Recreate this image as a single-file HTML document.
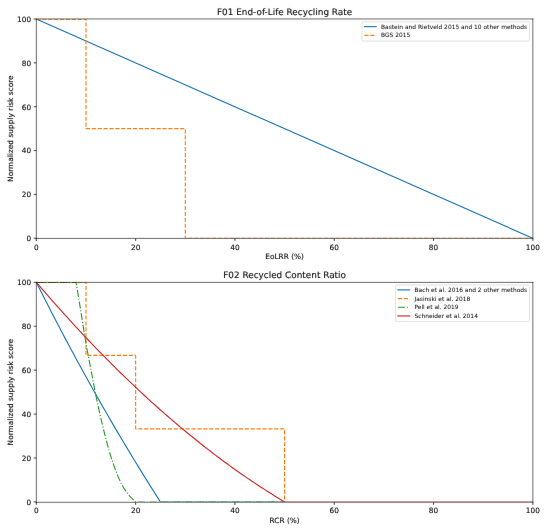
<!DOCTYPE html>
<html><head><meta charset="utf-8"><title>Recycling indicators</title>
<style>html,body{margin:0;padding:0;background:#fff}svg{display:block}text{font-family:"DejaVu Sans","Liberation Sans",sans-serif;fill:#000;stroke:#000;text-rendering:geometricPrecision}</style></head><body>
<svg width="550" height="528" viewBox="0 0 550 528">
<rect width="550" height="528" fill="#fff"/>
<defs>
<clipPath id="c0"><rect x="36.35" y="19.05" width="496.50" height="219.20"/></clipPath>
<clipPath id="c1"><rect x="36.35" y="282.3" width="496.50" height="219.42"/></clipPath>
<filter id="soft" x="0" y="0" width="550" height="528" filterUnits="userSpaceOnUse" color-interpolation-filters="sRGB"><feConvolveMatrix order="3" kernelMatrix="0.00202 0.04095 0.00202 0.04095 0.82810 0.04095 0.00202 0.04095 0.00202" divisor="1" edgeMode="duplicate" preserveAlpha="false"/></filter>
</defs>
<g clip-path="url(#c0)" fill="none" stroke-width="1.15" stroke-linejoin="round">
<path d="M36.35 19.05 L532.85 238.25" stroke="#1f77b4" stroke-linecap="square"/>
<path d="M36.35 19.05 L86.00 19.05 L86.00 128.65 L185.30 128.65 L185.30 238.25 L532.85 238.25" stroke="#ff7f0e" stroke-dasharray="4.114 1.779"/>
</g>
<g filter="url(#soft)">
<g stroke="#000" stroke-width="0.60" fill="none">
<path d="M36.35 238.4 v2.59" stroke-width="0.75"/>
<path d="M36.35 238.25 h-2.59" stroke-width="0.75"/>
<path d="M135.65 238.4 v2.59" stroke-width="0.75"/>
<path d="M36.35 194.41 h-2.59" stroke-width="0.75"/>
<path d="M234.95 238.4 v2.59" stroke-width="0.75"/>
<path d="M36.35 150.57 h-2.59" stroke-width="0.75"/>
<path d="M334.25 238.4 v2.59" stroke-width="0.75"/>
<path d="M36.35 106.73 h-2.59" stroke-width="0.75"/>
<path d="M433.55 238.4 v2.59" stroke-width="0.75"/>
<path d="M36.35 62.89 h-2.59" stroke-width="0.75"/>
<path d="M532.85 238.4 v2.59" stroke-width="0.75"/>
<path d="M36.35 19.05 h-2.59" stroke-width="0.75"/>
<path d="M36.35 238.4 V18.95 M532.85 238.4 V18.95" stroke-linecap="square"/>
<path d="M36.35 238.4 H532.85 M36.35 18.95 H532.85" stroke-linecap="square"/>
</g>
<g>
<text transform="translate(36.35 249.50) scale(0.1)" font-size="74.0px" stroke-width="1.0" text-anchor="middle">0</text>
<text transform="translate(31.17 241.06) scale(0.1)" font-size="74.0px" stroke-width="1.0" text-anchor="end">0</text>
<text transform="translate(135.65 249.50) scale(0.1)" font-size="74.0px" stroke-width="1.0" text-anchor="middle">20</text>
<text transform="translate(31.17 197.22) scale(0.1)" font-size="74.0px" stroke-width="1.0" text-anchor="end">20</text>
<text transform="translate(234.95 249.50) scale(0.1)" font-size="74.0px" stroke-width="1.0" text-anchor="middle">40</text>
<text transform="translate(31.17 153.38) scale(0.1)" font-size="74.0px" stroke-width="1.0" text-anchor="end">40</text>
<text transform="translate(334.25 249.50) scale(0.1)" font-size="74.0px" stroke-width="1.0" text-anchor="middle">60</text>
<text transform="translate(31.17 109.54) scale(0.1)" font-size="74.0px" stroke-width="1.0" text-anchor="end">60</text>
<text transform="translate(433.55 249.50) scale(0.1)" font-size="74.0px" stroke-width="1.0" text-anchor="middle">80</text>
<text transform="translate(31.17 65.70) scale(0.1)" font-size="74.0px" stroke-width="1.0" text-anchor="end">80</text>
<text transform="translate(532.85 249.50) scale(0.1)" font-size="74.0px" stroke-width="1.0" text-anchor="middle">100</text>
<text transform="translate(31.17 21.86) scale(0.1)" font-size="74.0px" stroke-width="1.0" text-anchor="end">100</text>
<text transform="translate(284.60 259.40) scale(0.1)" font-size="74.0px" stroke-width="1.0" text-anchor="middle">EoLRR (%)</text>
<text transform="translate(13.10 128.65) rotate(-90) scale(0.1)" font-size="74.0px" stroke-width="1.0" text-anchor="middle">Normalized supply risk score</text>
</g>
<text transform="translate(284.60 14.76) scale(0.1)" font-size="88.8px" stroke-width="1.0" text-anchor="middle">F01 End-of-Life Recycling Rate</text>
<rect x="362.01" y="21.86" width="167.48" height="19.18" rx="1.18" fill="#fff" fill-opacity="0.8" stroke="#ccc" stroke-opacity="0.8" stroke-width="0.74"/>
<text transform="translate(380.95 28.73) scale(0.1)" font-size="59.2px" stroke-width="0.3">Bastein and Rietveld 2015 and 10 other methods</text>
<text transform="translate(380.95 37.43) scale(0.1)" font-size="59.2px" stroke-width="0.3">BGS 2015</text>
</g>
<path d="M364.38 26.66 h11.84" stroke="#1f77b4" stroke-width="1.15" fill="none" stroke-linecap="square"/>
<path d="M364.38 35.36 h11.84" stroke="#ff7f0e" stroke-width="1.15" fill="none" stroke-dasharray="4.114 1.779"/>
<g clip-path="url(#c1)" fill="none" stroke-width="1.15" stroke-linejoin="round">
<path d="M36.35 282.30 L38.83 287.25 L41.31 292.18 L43.80 297.08 L46.28 301.96 L48.76 306.82 L51.25 311.65 L53.73 316.45 L56.21 321.24 L58.69 325.99 L61.17 330.73 L63.66 335.44 L66.14 340.13 L68.62 344.79 L71.11 349.43 L73.59 354.05 L76.07 358.65 L78.55 363.22 L81.03 367.77 L83.52 372.29 L86.00 376.80 L88.48 381.28 L90.97 385.74 L93.45 390.17 L95.93 394.59 L98.41 398.98 L100.90 403.35 L103.38 407.70 L105.86 412.03 L108.34 416.33 L110.82 420.62 L113.31 424.88 L115.79 429.12 L118.27 433.34 L120.75 437.54 L123.24 441.72 L125.72 445.88 L128.20 450.01 L130.69 454.13 L133.17 458.22 L135.65 462.30 L138.13 466.35 L140.62 470.39 L143.10 474.40 L145.58 478.40 L148.06 482.37 L150.54 486.33 L153.03 490.26 L155.51 494.18 L157.99 498.07 L160.47 501.95 L284.60 501.95" stroke="#1f77b4" stroke-linecap="square"/>
<path d="M36.35 282.30 L86.00 282.30 L86.00 355.44 L135.65 355.44 L135.65 428.81 L284.60 428.81 L284.60 501.95" stroke="#ff7f0e" stroke-dasharray="4.129 1.786"/>
<path d="M36.35 282.30 L76.07 282.30 L77.06 288.25 L78.06 294.24 L79.05 300.25 L80.04 306.31 L81.03 312.39 L82.03 318.61 L83.02 324.96 L84.01 331.31 L85.01 337.52 L86.00 343.47 L86.99 349.01 L87.99 354.24 L88.98 359.47 L89.97 364.64 L90.97 369.79 L91.96 374.95 L92.95 380.21 L93.94 385.53 L94.94 390.74 L95.93 395.70 L96.92 400.45 L97.92 405.07 L98.91 409.57 L99.90 413.98 L100.90 418.30 L101.89 422.55 L102.88 426.74 L103.87 430.84 L104.87 434.83 L105.86 438.71 L106.85 442.49 L107.85 446.19 L108.84 449.78 L109.83 453.19 L110.82 456.40 L111.82 459.47 L112.81 462.42 L113.80 465.26 L114.80 468.01 L115.79 470.70 L116.78 473.31 L117.78 475.80 L118.77 478.12 L119.76 480.26 L120.75 482.30 L121.75 484.25 L122.74 486.10 L123.73 487.83 L124.73 489.44 L125.72 490.93 L126.71 492.32 L127.71 493.62 L128.70 494.85 L129.69 496.02 L130.69 497.13 L131.68 498.20 L132.67 499.22 L133.66 500.19 L134.66 501.10 L135.65 501.95 L284.60 501.95" stroke="#2ca02c" stroke-dasharray="7.142 1.786 1.116 1.786"/>
<path d="M36.35 282.30 L38.83 285.20 L41.31 288.09 L43.80 290.97 L46.28 293.83 L48.76 296.67 L51.25 299.51 L53.73 302.32 L56.21 305.13 L58.69 307.92 L61.17 310.69 L63.66 313.45 L66.14 316.20 L68.62 318.93 L71.11 321.65 L73.59 324.35 L76.07 327.04 L78.55 329.71 L81.03 332.37 L83.52 335.02 L86.00 337.65 L88.48 340.27 L90.97 342.87 L93.45 345.46 L95.93 348.04 L98.41 350.60 L100.90 353.14 L103.38 355.68 L105.86 358.19 L108.34 360.70 L110.82 363.19 L113.31 365.66 L115.79 368.12 L118.27 370.57 L120.75 373.00 L123.24 375.42 L125.72 377.82 L128.20 380.21 L130.69 382.59 L133.17 384.95 L135.65 387.29 L138.13 389.62 L140.62 391.94 L143.10 394.25 L145.58 396.54 L148.06 398.81 L150.54 401.07 L153.03 403.32 L155.51 405.55 L157.99 407.77 L160.47 409.97 L162.96 412.16 L165.44 414.34 L167.92 416.50 L170.41 418.64 L172.89 420.78 L175.37 422.89 L177.85 425.00 L180.34 427.09 L182.82 429.16 L185.30 431.22 L187.78 433.27 L190.26 435.30 L192.75 437.32 L195.23 439.32 L197.71 441.31 L200.19 443.29 L202.68 445.25 L205.16 447.20 L207.64 449.13 L210.12 451.05 L212.61 452.95 L215.09 454.84 L217.57 456.71 L220.06 458.58 L222.54 460.42 L225.02 462.25 L227.50 464.07 L229.98 465.88 L232.47 467.67 L234.95 469.44 L237.43 471.20 L239.91 472.95 L242.40 474.68 L244.88 476.40 L247.36 478.10 L249.84 479.79 L252.33 481.47 L254.81 483.13 L257.29 484.78 L259.78 486.41 L262.26 488.03 L264.74 489.63 L267.22 491.22 L269.70 492.80 L272.19 494.36 L274.67 495.91 L277.15 497.44 L279.63 498.96 L282.12 500.46 L284.60 501.95 L532.85 501.95" stroke="#d62728" stroke-linecap="square"/>
</g>
<g filter="url(#soft)">
<g stroke="#000" stroke-width="0.60" fill="none">
<path d="M36.35 502.3 v2.59" stroke-width="0.75"/>
<path d="M36.35 501.95 h-2.59" stroke-width="0.75"/>
<path d="M135.65 502.3 v2.59" stroke-width="0.75"/>
<path d="M36.35 458.02 h-2.59" stroke-width="0.75"/>
<path d="M234.95 502.3 v2.59" stroke-width="0.75"/>
<path d="M36.35 414.09 h-2.59" stroke-width="0.75"/>
<path d="M334.25 502.3 v2.59" stroke-width="0.75"/>
<path d="M36.35 370.16 h-2.59" stroke-width="0.75"/>
<path d="M433.55 502.3 v2.59" stroke-width="0.75"/>
<path d="M36.35 326.23 h-2.59" stroke-width="0.75"/>
<path d="M532.85 502.3 v2.59" stroke-width="0.75"/>
<path d="M36.35 282.30 h-2.59" stroke-width="0.75"/>
<path d="M36.35 502.3 V282.40 M532.85 502.3 V282.40" stroke-linecap="square"/>
<path d="M36.35 502.3 H532.85 M36.35 282.40 H532.85" stroke-linecap="square"/>
</g>
<g>
<text transform="translate(36.35 513.00) scale(0.1)" font-size="74.0px" stroke-width="1.0" text-anchor="middle">0</text>
<text transform="translate(31.17 504.76) scale(0.1)" font-size="74.0px" stroke-width="1.0" text-anchor="end">0</text>
<text transform="translate(135.65 513.00) scale(0.1)" font-size="74.0px" stroke-width="1.0" text-anchor="middle">20</text>
<text transform="translate(31.17 460.83) scale(0.1)" font-size="74.0px" stroke-width="1.0" text-anchor="end">20</text>
<text transform="translate(234.95 513.00) scale(0.1)" font-size="74.0px" stroke-width="1.0" text-anchor="middle">40</text>
<text transform="translate(31.17 416.90) scale(0.1)" font-size="74.0px" stroke-width="1.0" text-anchor="end">40</text>
<text transform="translate(334.25 513.00) scale(0.1)" font-size="74.0px" stroke-width="1.0" text-anchor="middle">60</text>
<text transform="translate(31.17 372.97) scale(0.1)" font-size="74.0px" stroke-width="1.0" text-anchor="end">60</text>
<text transform="translate(433.55 513.00) scale(0.1)" font-size="74.0px" stroke-width="1.0" text-anchor="middle">80</text>
<text transform="translate(31.17 329.04) scale(0.1)" font-size="74.0px" stroke-width="1.0" text-anchor="end">80</text>
<text transform="translate(532.85 513.00) scale(0.1)" font-size="74.0px" stroke-width="1.0" text-anchor="middle">100</text>
<text transform="translate(31.17 285.11) scale(0.1)" font-size="74.0px" stroke-width="1.0" text-anchor="end">100</text>
<text transform="translate(284.60 522.90) scale(0.1)" font-size="74.0px" stroke-width="1.0" text-anchor="middle">RCR (%)</text>
<text transform="translate(13.10 392.12) rotate(-90) scale(0.1)" font-size="74.0px" stroke-width="1.0" text-anchor="middle">Normalized supply risk score</text>
</g>
<text transform="translate(284.60 277.96) scale(0.1)" font-size="88.8px" stroke-width="1.0" text-anchor="middle">F02 Recycled Content Ratio</text>
<rect x="395.51" y="285.06" width="133.98" height="36.59" rx="1.18" fill="#fff" fill-opacity="0.8" stroke="#ccc" stroke-opacity="0.8" stroke-width="0.74"/>
<text transform="translate(414.45 291.93) scale(0.1)" font-size="59.2px" stroke-width="0.3">Bach et al. 2016 and 2 other methods</text>
<text transform="translate(414.45 300.63) scale(0.1)" font-size="59.2px" stroke-width="0.3">Jasinski et al. 2018</text>
<text transform="translate(414.45 309.33) scale(0.1)" font-size="59.2px" stroke-width="0.3">Pell et al. 2019</text>
<text transform="translate(414.45 318.03) scale(0.1)" font-size="59.2px" stroke-width="0.3">Schneider et al. 2014</text>
</g>
<path d="M397.87 289.86 h11.84" stroke="#1f77b4" stroke-width="1.15" fill="none" stroke-linecap="square"/>
<path d="M397.87 298.56 h11.84" stroke="#ff7f0e" stroke-width="1.15" fill="none" stroke-dasharray="4.129 1.786"/>
<path d="M397.87 307.26 h11.84" stroke="#2ca02c" stroke-width="1.15" fill="none" stroke-dasharray="7.142 1.786 1.116 1.786"/>
<path d="M397.87 315.96 h11.84" stroke="#d62728" stroke-width="1.15" fill="none" stroke-linecap="square"/>
</svg></body></html>
